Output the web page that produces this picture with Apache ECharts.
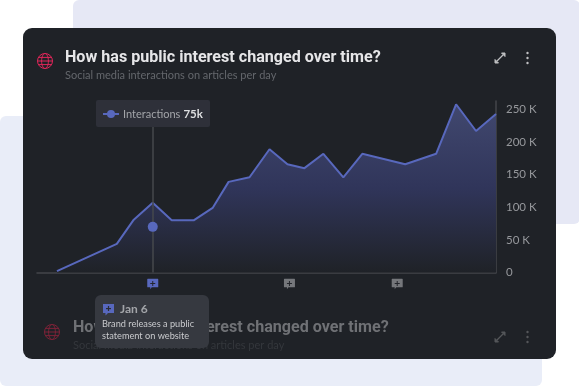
<!DOCTYPE html>
<html>
<head>
<meta charset="utf-8">
<style>html,body{margin:0;padding:0;background:#fff}#c{width:579px;height:386px}</style>
<script src="https://cdn.jsdelivr.net/npm/echarts@6/dist/echarts.min.js"></script>
</head>
<body>
<div id="c"></div>
<script>
const days = [0,3,3.85,4.8,5.75,6.85,7.8,8.6,9.65,10.65,11.55,12.4,13.35,14.35,15.3,17.45,19,20,21,22];
const interactions = [2,44,81,107,80,80,99,139,146,189,166,160,182,146,182,166,182,258,217,243];
const yTicks = [0,50,100,150,200,250];
const eventDays = [4.8,11.65,17.05];
const highlightDay = 4.8;
const highlightValue = 70;
const titleText = 'How has public interest changed over time?';
const subtitleText = 'Social media interactions on articles per day';
const seriesName = 'Interactions';
const highlightLabel = '75k';
const eventDate = 'Jan 6';
const eventLines = ['Brand releases a public','statement on website'];

const FONT = 'Lato, "Open Sans", sans-serif';
const TITLE_FONT = 'Roboto, Lato, sans-serif';
const accent = '#5868bd';
const bubble = 'path://M1 0H21A1 1 0 0 1 22 1V15A1 1 0 0 1 21 16H9L6 20V16H1A1 1 0 0 1 0 15V1A1 1 0 0 1 1 0Z';
const plus = 'path://M4 0H6V4H10V6H6V10H4V6H0V4H4Z';

function globe(cx, cy, color, z) {
  const s = {stroke: color, fill: null, lineWidth: 1};
  return [
    {type:'circle', z, shape:{cx,cy,r:7.5}, style:s},
    {type:'ellipse', z, shape:{cx,cy,rx:3.4,ry:7.5}, style:s},
    {type:'line', z, shape:{x1:cx-7.5,y1:cy,x2:cx+7.5,y2:cy}, style:s},
    {type:'line', z, shape:{x1:cx-6.5,y1:cy-3.6,x2:cx+6.5,y2:cy-3.6}, style:s},
    {type:'line', z, shape:{x1:cx-6.5,y1:cy+3.6,x2:cx+6.5,y2:cy+3.6}, style:s}
  ];
}
function actions(x0, x1, y0, dx, color, z) {
  const s = {stroke: color, lineWidth: 1.2};
  const out = [
    {type:'line', z, shape:{x1:x0+2,y1:y0+8,x2:x1-2,y2:y0+2}, style:s},
    {type:'polygon', z, shape:{points:[[x1-3.5,y0],[x1,y0],[x1,y0+3.5]]}, style:{fill:color,stroke:color}},
    {type:'polygon', z, shape:{points:[[x0,y0+6.5],[x0,y0+10],[x0+3.5,y0+10]]}, style:{fill:color,stroke:color}}
  ];
  [0,5,10].forEach(d => out.push({type:'circle', z, shape:{cx:dx,cy:y0+d,r:1.2}, style:{fill:color}}));
  return out;
}
function txt(x, y, text, size, weight, color, z, font) {
  return {type:'text', z, x, y, style:{text, fontSize:size, fontWeight:weight, fill:color, fontFamily:font||FONT, textVerticalAlign:'middle'}};
}

const chart = echarts.init(document.getElementById('c'), null, {renderer:'canvas'});
chart.setOption({
  animation: false,
  backgroundColor: '#fff',
  grid: {left:37, right:83, top:101, bottom:113.5},
  xAxis: {type:'value', min:-1, max:22, interval:1, axisLine:{show:true, onZero:false, lineStyle:{color:'#44464b', width:1.5}},
    axisTick:{show:false}, axisLabel:{show:false}, splitLine:{show:false}},
  yAxis: {type:'value', position:'right', min:0, max:263, interval:50,
    axisLine:{show:true, onZero:false, lineStyle:{color:'#44464b', width:1.5}}, axisTick:{show:false}, splitLine:{show:false},
    axisLabel:{color:'#96989c', fontSize:11.5, fontFamily:FONT, margin:10, showMaxLabel:false, padding:[0,0,3,0],
      formatter:v => yTicks.includes(v) ? (v === 0 ? '0' : v + ' K') : ''}},
  series: [
    {type:'line', name:seriesName, data:days.map((d,i)=>[d,interactions[i]]), symbol:'none', z:3,
      lineStyle:{color:accent,width:2},
      areaStyle:{opacity:1,color:{type:'linear',x:0,y:0,x2:0,y2:1,colorStops:[{offset:0,color:'#41486f'},{offset:0.5,color:'#30355a'},{offset:1,color:'#1f2227'}]}},
      markLine:{silent:true, symbol:'none', label:{show:false}, animation:false, z:4,
        lineStyle:{color:'#46484d',width:1.5,type:'solid'}, data:[{xAxis:highlightDay}]}},
    {type:'scatter', data:[[highlightDay,highlightValue]], symbolSize:10, itemStyle:{color:accent,opacity:1}, z:5},
    {type:'scatter', data:eventDays.map(d=>[d,0]), symbol:bubble, symbolSize:[11,10.5], symbolKeepAspect:false, symbolOffset:[0,11.5], z:5,
      itemStyle:{opacity:1, color:p => p.dataIndex===0 ? accent : '#75777b'}},
    {type:'scatter', data:eventDays.map(d=>[d,0]), symbol:plus, symbolSize:5, symbolOffset:[0,11], z:6, itemStyle:{color:'#24262c',opacity:1}}
  ],
  graphic: {elements: [
    {type:'rect', z:-20, shape:{x:73,y:0,width:507,height:224,r:6}, style:{fill:'#e6e8f5'}},
    {type:'rect', z:-20, shape:{x:0,y:116,width:542,height:270,r:6}, style:{fill:'#e9edf8'}},
    {type:'rect', z:-10, shape:{x:23,y:28,width:533,height:331,r:9}, style:{fill:'#1f2227'}},
    ...globe(45,61,'#e0265a',10),
    txt(65,58,titleText,16.1,700,'#e6e6e8',10,TITLE_FONT),
    txt(65,75,subtitleText,11,400,'#64676c',10),
    ...actions(495,505,53,527.5,'#bfc0c2',10),
    ...globe(52,332,'#7d2238',10),
    txt(73,328,titleText,16.1,700,'#6f7175',10,TITLE_FONT),
    txt(73,345,subtitleText,11,400,'#34373c',10),
    ...actions(495,505,332,527.5,'#55575a',10),
    {type:'rect', z:20, shape:{x:96,y:100,width:114,height:27,r:2}, style:{fill:'#2e3039'}},
    {type:'line', z:21, shape:{x1:103,y1:114,x2:119,y2:114}, style:{stroke:accent,lineWidth:2}},
    {type:'circle', z:21, shape:{cx:111,cy:114,r:4}, style:{fill:accent}},
    {type:'text', z:21, x:123, y:114.5, style:{text:'{a|'+seriesName+'} {b|'+highlightLabel+'}', textVerticalAlign:'middle', fontFamily:FONT,
      rich:{a:{fontSize:11,fill:'#a3a5a9',fontFamily:FONT},b:{fontSize:11.5,fontWeight:700,fill:'#dedfe1',fontFamily:FONT}}}},
    {type:'rect', z:20, shape:{x:95,y:295,width:114,height:53,r:6}, style:{fill:'#363940'}},
    {type:'polygon', z:21, shape:{points:[[103,304],[114,304],[114,313],[108,313],[105.5,315.5],[105.5,313],[103,313]]}, style:{fill:accent}},
    {type:'rect', z:22, shape:{x:106,y:308,width:5,height:1.2}, style:{fill:'#2b2d35'}},
    {type:'rect', z:22, shape:{x:107.9,y:306,width:1.2,height:5}, style:{fill:'#2b2d35'}},
    txt(120,309.5,eventDate,12,700,'#a3a5a9',21),
    txt(102,324,eventLines[0],9.2,400,'#c9cacd',21),
    txt(102,336,eventLines[1],9.2,400,'#c9cacd',21)
  ]}
});
</script>
</body>
</html>
